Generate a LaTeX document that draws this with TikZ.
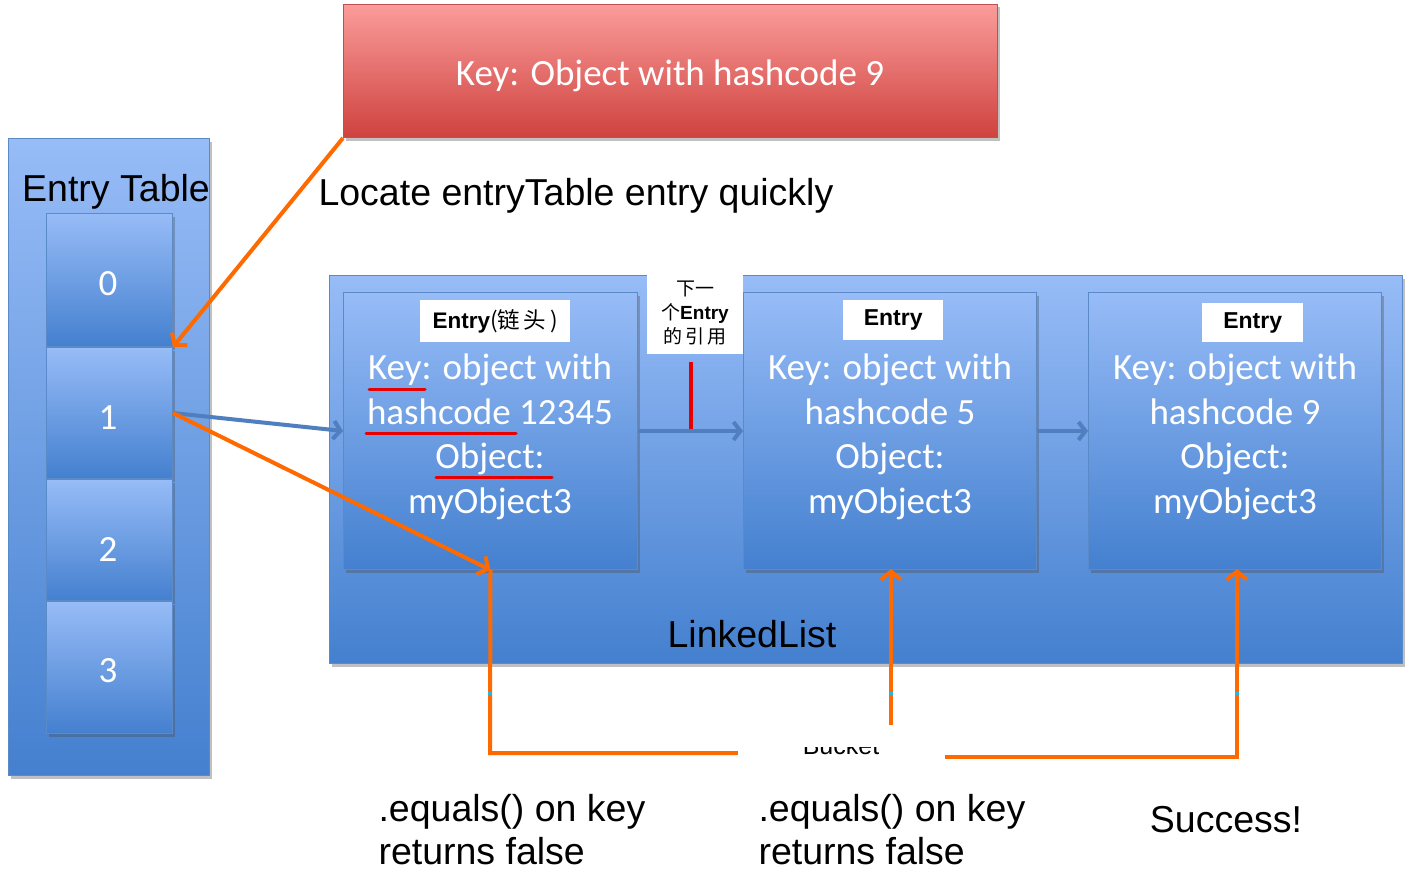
\documentclass[tikz,border=0pt]{standalone}
\usepackage{fontspec}
\setmainfont{Liberation Sans}
\newfontfamily\calfont{Carlito}
\newfontfamily\cjk{Noto Sans CJK SC}
\usetikzlibrary{shadows,arrows.meta}
\definecolor{redtop}{HTML}{FA9C9A}
\definecolor{redbot}{HTML}{CF423E}
\definecolor{redborder}{HTML}{C0504D}
\definecolor{bluetop}{HTML}{97BCF7}
\definecolor{bluebot}{HTML}{4480CF}
\definecolor{blueborder}{HTML}{5A8AC8}
\definecolor{orng}{HTML}{FF6A00}
\definecolor{arrowblue}{HTML}{4F7FBF}
\definecolor{ulred}{HTML}{E80000}
\tikzset{
  shd/.style={drop shadow={shadow xshift=2pt,shadow yshift=-3pt,opacity=0.35,fill=black!70}},
  bluebox/.style={draw=blueborder,line width=1pt,top color=bluetop,bottom color=bluebot,anchor=north west,inner sep=0pt,shd},
  redbox/.style={draw=redborder,line width=1pt,top color=redtop,bottom color=redbot,anchor=north west,inner sep=0pt,shd},
  whitelabel/.style={fill=white,anchor=north west,inner sep=0pt},
  cell/.style={bluebox,minimum width=126pt},
  celltext/.style={text=white,font=\calfont\fontsize{37}{40}\selectfont},
  entrytext/.style={text=white,align=center,font=\calfont\fontsize{37}{44.5}\selectfont},
  blacktext/.style={text=black,font=\fontsize{37.5}{43}\selectfont},
  bluearrow/.style={draw=arrowblue,line width=4pt,-{Straight Barb[length=7pt,width=18pt]}},
  orangeline/.style={draw=orng,line width=4pt},
  orangearrow/.style={orangeline,-{Straight Barb[length=8pt,width=20pt]}},
  ul/.style={draw=ulred,line width=3pt,line cap=round},
}
\begin{document}
\begin{tikzpicture}[x=1pt,y=-1pt]
\useasboundingbox (0,0) rectangle (1410,883);
\fill[white] (0,0) rectangle (1410,883);

% red key box
\node[redbox,minimum width=654pt,minimum height=133pt] (key) at (343,4) {};
\node[text=white,font=\calfont\fontsize{37}{40}\selectfont] (keyt) at (670,76) {Key: Object with hashcode 9};

% entry table
\node[bluebox,minimum width=201pt,minimum height=637pt] (table) at (8,138) {};
\node[blacktext] (tablet) at (116,192) {Entry Table};
\node[cell,minimum height=133pt] (c0) at (46,213) {};
\node[cell,minimum height=131pt] (c1) at (46,347) {};
\node[cell,minimum height=121pt] (c2) at (46,479) {};
\node[cell,minimum height=132pt] (c3) at (46,601) {};
\node[celltext] (c0t) at (108,284) {0};
\node[celltext] (c1t) at (108,418) {1};
\node[celltext] (c2t) at (108,549) {2};
\node[celltext] (c3t) at (108,671) {3};

\node[blacktext,anchor=west] (locate) at (315,196) {Locate entryTable entry quickly};

% linked list
\node[bluebox,minimum width=1073pt,minimum height=388pt] (ll) at (329,275) {};
\node[blacktext] (llt) at (752,634) {LinkedList};

\node[bluebox,minimum width=294pt,minimum height=277pt] (e1) at (343,292) {};
\node[bluebox,minimum width=293pt,minimum height=277pt] (e2) at (743,292) {};
\node[bluebox,minimum width=293pt,minimum height=277pt] (e3) at (1088,292) {};

\node[entrytext] (e1t) at (490,437) {Key: object with\\hashcode 12345\\Object:\\myObject3};
\node[entrytext] (e2t) at (890,437) {Key: object with\\hashcode 5\\Object:\\myObject3};
\node[entrytext] (e3t) at (1235,437) {Key: object with\\hashcode 9\\Object:\\myObject3};

% white labels
\node[whitelabel,minimum width=150pt,minimum height=42pt] (l1) at (420,300) {};
\node[font=\fontsize{22.5}{24}\selectfont] (l1t) at (l1.center) {\textbf{Entry}{\cjk (链\,头\,)}};
\node[whitelabel,minimum width=100pt,minimum height=40pt] (l2) at (843,300) {};
\node[font=\bfseries\fontsize{23}{24}\selectfont] (l2t) at (l2.center) {Entry};
\node[whitelabel,minimum width=101pt,minimum height=39pt] (l3) at (1202,303) {};
\node[font=\bfseries\fontsize{23}{24}\selectfont] (l3t) at (l3.center) {Entry};
\node[whitelabel,minimum width=96pt,minimum height=81pt] (ln) at (647,273) {};
\node[align=center,font=\fontsize{19}{24}\selectfont] (lnt) at (695,313) {{\cjk 下一}\\{\cjk 个}\textbf{Entry}\\{\cjk 的\,引\,用}};

% red underlines
\draw[ul] (369,389) -- (425,389);
\draw[ul] (366,433) -- (516,433);
\draw[ul] (436,477) -- (552,477);
\draw[ulred,line width=3.5pt] (691,362) -- (691,430);

% blue connectors
\draw[bluearrow] (c1.east) -- (e1.west);
\draw[bluearrow] (e1.east) -- (e2.west);
\draw[bluearrow] (e2.east) -- (e3.west);

% orange connectors
\draw[orangearrow] (key.south west) -- (c1.north east);
\draw[orangearrow] (c1.east) -- (e1.south);
\coordinate (bl) at (490,753);
\coordinate (blend) at (800,753);
\coordinate (brstart) at (880,757);
\coordinate (br) at (1237,757);
\coordinate (bm) at (891,753);
\coordinate (b3) at (1237,569);
\coordinate (b2) at (891,569);
\draw[orangeline,line join=miter] (e1.south) -- (bl) -- (blend);
\draw[orangearrow,line join=miter] (brstart) -- (br) -- (b3);
\draw[orangearrow] (bm) -- (b2);
\foreach \xx in {490,891,1237} \fill[arrowblue!60!cyan] (\xx-2,692) rectangle (\xx+2,695);

% white patch with clipped Bucket label
\fill[white] (738,725) rectangle (945,775);
\begin{scope}
\clip (738,747) rectangle (945,775);
\node[anchor=base,font=\fontsize{25}{28}\selectfont] (bucket) at (841,754) {Bucket};
\end{scope}

% bottom texts
\node[blacktext,anchor=west,align=left] (eq1) at (375,830) {.equals() on key\\returns false};
\node[blacktext,anchor=west,align=left] (eq2) at (755,830) {.equals() on key\\returns false};
\node[blacktext] (succ) at (1226,820) {Success!};
\end{tikzpicture}
\end{document}
